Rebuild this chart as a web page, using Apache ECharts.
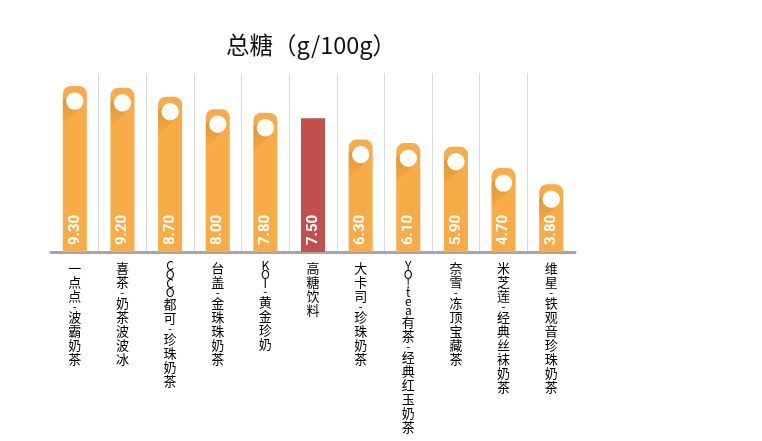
<!DOCTYPE html>
<html>
<head>
<meta charset="utf-8">
<script src="https://cdn.jsdelivr.net/npm/echarts@6/dist/echarts.min.js"></script>
<style>
  html, body { margin: 0; padding: 0; background: #fff; }
  #main { width: 762px; height: 441px; }
</style>
</head>
<body>
<div id="main"></div>
<script>
var categories = ['一点点-波霸奶茶', '喜茶-奶茶波波冰', 'COCO都可-珍珠奶茶', '台盖-金珠珠奶茶', 'KOI-黄金珍奶',
  '高糖饮料', '大卡司-珍珠奶茶', 'YO!tea有茶-经典红玉奶茶', '奈雪-冻顶宝藏茶', '米芝莲-经典丝袜奶茶', '维星-铁观音珍珠奶茶'];
var sugar = [9.3, 9.2, 8.7, 8.0, 7.8, 7.5, 6.3, 6.1, 5.9, 4.7, 3.8];
var refIndex = 5; // 高糖饮料, drawn in red

var chart = echarts.init(document.getElementById('main'));

// vertical label: one character per line, hyphen and latin lines made shorter
function vertical(name) {
  var out = [];
  for (var i = 0; i < name.length; i++) {
    var c = name[i];
    if (c === '-') out.push('{h|-}');
    else if (/[A-Za-z!]/.test(c)) out.push('{l|' + c + '}');
    else out.push(c);
  }
  return out.join('\n');
}

var barData = sugar.map(function (v, i) {
  if (i === refIndex) {
    return { value: v, itemStyle: { color: '#c0504d', borderRadius: 0 } };
  }
  return v;
});

var decoData = [];
sugar.forEach(function (v, i) {
  if (i !== refIndex) decoData.push([i, v]);
});

var option = {
  backgroundColor: '#fff',
  animation: false,
  title: {
    text: '总糖（g/100g）',
    left: 306,
    top: 28,
    textAlign: 'center',
    textStyle: { fontFamily: 'Noto Sans CJK SC', fontSize: 23.5, fontWeight: 'normal', color: '#111' }
  },
  grid: { left: 51, right: 187, top: 73.5, bottom: 189 },
  xAxis: {
    type: 'category',
    data: categories,
    axisLine: { lineStyle: { color: '#a6a6a6', width: 3 } },
    axisTick: { show: false },
    splitLine: { show: true, showMinLine: false, showMaxLine: false, lineStyle: { color: '#d9d9d9', width: 1 } },
    axisLabel: {
      interval: 0,
      margin: 9,
      color: '#000',
      fontFamily: 'Noto Sans CJK SC',
      fontSize: 13,
      lineHeight: 14,
      formatter: vertical,
      rich: {
        h: { fontSize: 12, lineHeight: 7, color: '#000' },
        l: { fontSize: 12, lineHeight: 9, color: '#000' }
      }
    }
  },
  yAxis: {
    type: 'value',
    min: 0,
    max: 10,
    show: false,
    splitLine: { show: false }
  },
  series: [
    {
      type: 'bar',
      data: barData,
      barWidth: 24,
      itemStyle: { color: '#f8ac47', borderRadius: [8, 8, 0, 0] },
      label: {
        show: true,
        position: 'insideBottom',
        distance: 7,
        rotate: 90,
        align: 'left',
        verticalAlign: 'middle',
        color: '#fff',
        fontFamily: 'Roboto',
        fontWeight: 'bold',
        fontSize: 15,
        formatter: function (p) { return p.value.toFixed(2); }
      }
    },
    {
      type: 'custom',
      data: decoData,
      z: 3,
      silent: true,
      renderItem: function (params, api) {
        var top = api.coord([api.value(0), api.value(1)]);
        var cx = top[0];
        var x0 = cx - 12;
        var r = 8.7;
        var cy = top[1] + 15;
        var k = r / Math.SQRT2;
        return {
          type: 'group',
          children: [
            {
              type: 'polygon',
              shape: {
                points: [
                  [cx - k, cy - k],
                  [cx + k, cy + k],
                  [x0, cy + k + (cx + k - x0)],
                  [x0, cy - k + (cx - k - x0)]
                ]
              },
              style: {
                fill: new echarts.graphic.LinearGradient(0, 0, 0, 1, [
                  { offset: 0, color: 'rgba(200,120,25,0.5)' },
                  { offset: 1, color: 'rgba(200,120,25,0.05)' }
                ])
              }
            },
            {
              type: 'circle',
              shape: { cx: cx, cy: cy, r: r },
              style: { fill: '#fff' }
            }
          ]
        };
      }
    }
  ]
};

chart.setOption(option);
</script>
</body>
</html>
